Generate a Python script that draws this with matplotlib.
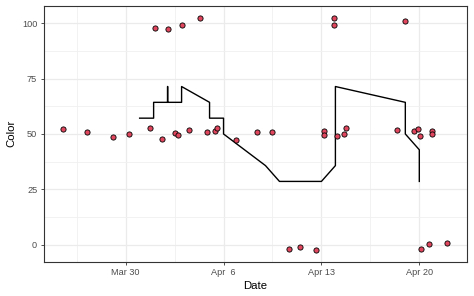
import numpy as np
import pandas as pd
import matplotlib
matplotlib.use("Agg")
import matplotlib.pyplot as plt

plt.rcParams['font.family'] = ['Liberation Sans', 'DejaVu Sans']

# points (date, value)
pt_dates = ["2020-03-25 12:00", "2020-03-27 05:00", "2020-03-29 02:00", "2020-03-30 05:00",
            "2020-03-31 17:00", "2020-04-01 14:00", "2020-04-02 12:00", "2020-04-02 17:00",
            "2020-04-03 13:00", "2020-04-04 19:00", "2020-04-05 09:00", "2020-04-05 12:00",
            "2020-04-06 22:00", "2020-04-08 09:00", "2020-04-09 12:00", "2020-04-13 05:00",
            "2020-04-13 05:00", "2020-04-14 02:00", "2020-04-14 19:00", "2020-04-14 14:00",
            "2020-04-18 10:00", "2020-04-19 15:00", "2020-04-19 22:00", "2020-04-20 01:00",
            "2020-04-20 22:00", "2020-04-20 22:00",
            "2020-04-01 03:00", "2020-04-02 00:00", "2020-04-03 00:00", "2020-04-04 07:00",
            "2020-04-13 21:00", "2020-04-13 22:00", "2020-04-19 00:00",
            "2020-04-10 17:00", "2020-04-11 12:00", "2020-04-12 14:00",
            "2020-04-20 03:00", "2020-04-20 17:00", "2020-04-22 00:00"]
pt_values = [52.1, 50.8, 48.5, 49.9, 52.7, 47.6, 50.3, 49.7, 51.9, 50.8, 51.4, 52.7,
             47.3, 50.8, 50.8, 51.4, 49.4, 49.1, 52.8, 50.0, 51.8, 51.2, 52.1, 49.1,
             51.4, 49.9,
             97.9, 97.3, 99.4, 102.6, 102.3, 99.2, 100.8,
             -1.9, -1.0, -2.4, -2.1, 0.3, 0.8]

# line path
line_dates = ["2020-03-31", "2020-04-01", "2020-04-01", "2020-04-02", "2020-04-02", "2020-04-02",
              "2020-04-03", "2020-04-03", "2020-04-05", "2020-04-05", "2020-04-06", "2020-04-06",
              "2020-04-09", "2020-04-10", "2020-04-13", "2020-04-14", "2020-04-14", "2020-04-19",
              "2020-04-19", "2020-04-20", "2020-04-20"]
line_values = [57.14, 57.14, 64.29, 64.29, 71.43, 64.29,
               64.29, 71.43, 64.29, 57.14, 57.14, 50.0,
               35.71, 28.57, 28.57, 35.71, 71.43, 64.29,
               50.0, 42.86, 28.57]

x_ticks = ["2020-03-30", "2020-04-06", "2020-04-13", "2020-04-20"]
x_labels = ["Mar 30", "Apr  6", "Apr 13", "Apr 20"]
y_ticks = [0, 25, 50, 75, 100]

pts = pd.to_datetime(pt_dates)
lns = pd.to_datetime(line_dates)

fig = plt.figure(figsize=(4.74, 2.96), dpi=100)
ax = fig.add_axes([43.5/474, 1 - 261.5/296, (466.5-43.5)/474, (261.5-6)/296])

ax.plot(lns, line_values, color='black', lw=1.0, zorder=3)
ax.scatter(pts, pt_values, s=14, facecolor='#E0475F', edgecolor='black', linewidths=0.6, zorder=4)

ax.set_xlim(pd.Timestamp("2020-03-24 03:00"), pd.Timestamp("2020-04-23 09:00"))
ax.set_ylim(-7.6, 107.8)

ax.set_xticks(pd.to_datetime(x_ticks))
ax.set_xticklabels(x_labels)
ax.set_xticks(pd.to_datetime(x_ticks) - pd.Timedelta(hours=84), minor=True)
ax.set_yticks(y_ticks)
ax.set_yticks([12.5, 37.5, 62.5, 87.5], minor=True)

ax.grid(which='major', color='#EBEBEB', lw=0.9)
ax.grid(which='minor', color='#F0F0F0', lw=0.6)
ax.set_axisbelow(True)
ax.tick_params(which='major', length=2.5, width=0.6, color='#333333', labelsize=6.6,
               labelcolor='#4D4D4D', pad=2)
ax.tick_params(which='minor', length=0)
for s in ax.spines.values():
    s.set_color('#333333')
    s.set_linewidth(0.8)

ax.set_xlabel("Date", fontsize=8.2, labelpad=3)
ax.set_ylabel("Color", fontsize=8.2, labelpad=4)

fig.savefig("out.png", dpi=100)
